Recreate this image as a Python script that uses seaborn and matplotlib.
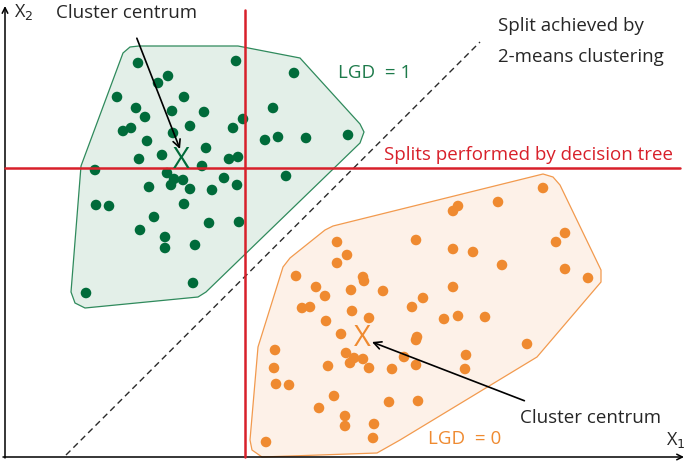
import numpy as np
import pandas as pd
import matplotlib.pyplot as plt
import seaborn as sns
from matplotlib.patches import Polygon

# points of the two groups, in picture units (x1 to the right, x2 downwards)
green_x = [138, 236, 168, 158, 117, 184, 136, 172, 204, 145, 243, 190, 233, 123, 131,
           173, 147, 206, 139, 162, 229, 238, 202, 95, 167, 174, 183, 171, 149, 190,
           212, 224, 237, 96, 109, 184, 154, 209, 239, 140, 165, 165, 195, 193, 86,
           294, 273, 265, 278, 306, 348, 286]
green_y = [63, 61, 76, 83, 97, 97, 108, 111, 112, 117, 119, 126, 128, 131, 128,
           133, 141, 148, 159, 155, 159, 157, 166, 170, 173, 179, 180, 185, 187, 189,
           190, 178, 185, 205, 206, 204, 217, 223, 222, 230, 237, 248, 245, 283, 293,
           73, 108, 140, 137, 138, 135, 176]

orange_x = [337, 416, 347, 337, 296, 363, 364, 316, 351, 383, 325, 423, 302, 310, 412,
            352, 326, 369, 341, 416, 417, 275, 346, 354, 363, 350, 404, 274, 328, 369,
            392, 416, 276, 289, 334, 389, 418, 319, 345, 345, 374, 373, 266,
            543, 498, 458, 453, 565, 556, 453, 473, 502, 565, 588, 453, 444, 458, 485,
            527, 466, 465]
orange_y = [242, 240, 255, 263, 276, 277, 281, 287, 290, 291, 296, 298, 308, 307, 307,
            311, 321, 318, 334, 340, 337, 350, 353, 358, 359, 363, 357, 368, 366, 368,
            369, 365, 384, 385, 396, 402, 401, 408, 416, 426, 424, 438, 442,
            188, 202, 206, 211, 233, 242, 249, 252, 265, 269, 278, 287, 319, 316, 317,
            344, 355, 369]

# cluster centres
centre_x = [181, 362]
centre_y = [160, 339]

# hulls around the groups
green_hull_x = [123, 130, 139, 238, 300, 360, 364, 360, 206, 198, 85, 75, 71, 81]
green_hull_y = [53, 47, 46, 46, 58, 124, 132, 143, 292, 297, 308, 303, 292, 166]
orange_hull_x = [325, 333, 543, 553, 560, 601, 601, 537, 400, 377, 262, 252, 250, 258, 283, 290]
orange_hull_y = [230, 226, 174, 177, 185, 270, 282, 357, 440, 453, 457, 450, 440, 347, 267, 258]

# decision tree splits and the 2-means split line
tree_split_x1 = 245
tree_split_x2 = 168
kmeans_line_x = [66, 480]
kmeans_line_y = [455, 42]

GREEN = '#006b3a'
ORANGE = '#ef8a30'
RED = '#d8202a'
FS = 13.5

sns.set_style("white")
plt.rcParams['font.family'] = ['Open Sans', 'DejaVu Sans']

df = pd.DataFrame({
    'x1': green_x + orange_x,
    'x2': green_y + orange_y,
    'cluster': ['LGD = 1'] * len(green_x) + ['LGD = 0'] * len(orange_x),
})

fig = plt.figure(figsize=(6.85, 4.62), dpi=100)
ax = fig.add_axes([0, 0, 1, 1])

ax.add_patch(Polygon(np.column_stack([green_hull_x, green_hull_y]), closed=True,
                     facecolor='#e3efe8', edgecolor='#2f8a5c', lw=0.9, zorder=1))
ax.add_patch(Polygon(np.column_stack([orange_hull_x, orange_hull_y]), closed=True,
                     facecolor='#fdf1e8', edgecolor='#f29a4e', lw=0.9, zorder=1))

ax.plot(kmeans_line_x, kmeans_line_y, color='#2a2a2a', lw=1.0, ls=(0, (4.5, 3)), zorder=2)

sns.scatterplot(data=df, x='x1', y='x2', hue='cluster',
                palette={'LGD = 1': GREEN, 'LGD = 0': ORANGE},
                s=58, edgecolor='none', legend=False, ax=ax, zorder=3)

ax.axvline(tree_split_x1, ymin=(462 - 457) / 462, ymax=(462 - 10) / 462, color=RED, lw=1.8, zorder=4)
ax.axhline(tree_split_x2, xmin=5 / 685, xmax=680 / 685, color=RED, lw=1.8, zorder=4)

# cluster centre markers
ax.text(centre_x[0], centre_y[0], 'X', color=GREEN, fontsize=21, ha='center', va='center', zorder=5)
ax.text(centre_x[1], centre_y[1], 'X', color=ORANGE, fontsize=21, ha='center', va='center', zorder=5)

# axis arrows
ax.annotate('', xy=(684, 457), xytext=(3, 457),
            arrowprops=dict(arrowstyle='->', color='black', lw=1.1, shrinkA=0, shrinkB=0))
ax.annotate('', xy=(5, 6), xytext=(5, 458),
            arrowprops=dict(arrowstyle='->', color='black', lw=1.1, shrinkA=0, shrinkB=0))
ax.text(14, 12, r'X$_2$', fontsize=13, ha='left', va='center')
ax.text(666, 440, r'X$_1$', fontsize=13, ha='left', va='center')

# labels
ax.annotate('Cluster centrum', xy=(180, 149), xytext=(127, 13),
            fontsize=FS, ha='center', va='center',
            arrowprops=dict(arrowstyle='->', color='black', lw=1.2, shrinkA=10, shrinkB=0))
ax.annotate('Cluster centrum', xy=(372, 342), xytext=(591, 418),
            fontsize=FS, ha='center', va='center',
            arrowprops=dict(arrowstyle='->', color='black', lw=1.2, shrinkA=10, shrinkB=0,
                            relpos=(0.18, 1.0)))
ax.text(338, 73, 'LGD  = 1', color='#1d7a4a', fontsize=FS, ha='left', va='center')
ax.text(428, 439, 'LGD  = 0', color=ORANGE, fontsize=FS, ha='left', va='center')
ax.text(498, 26, 'Split achieved by', fontsize=FS, ha='left', va='center')
ax.text(498, 57, '2-means clustering', fontsize=FS, ha='left', va='center')
ax.text(673, 155, 'Splits performed by decision tree', color=RED, fontsize=FS,
        ha='right', va='center')

ax.set_xlim(0, 685)
ax.set_ylim(462, 0)
ax.axis('off')

plt.savefig('out.png', dpi=100)
